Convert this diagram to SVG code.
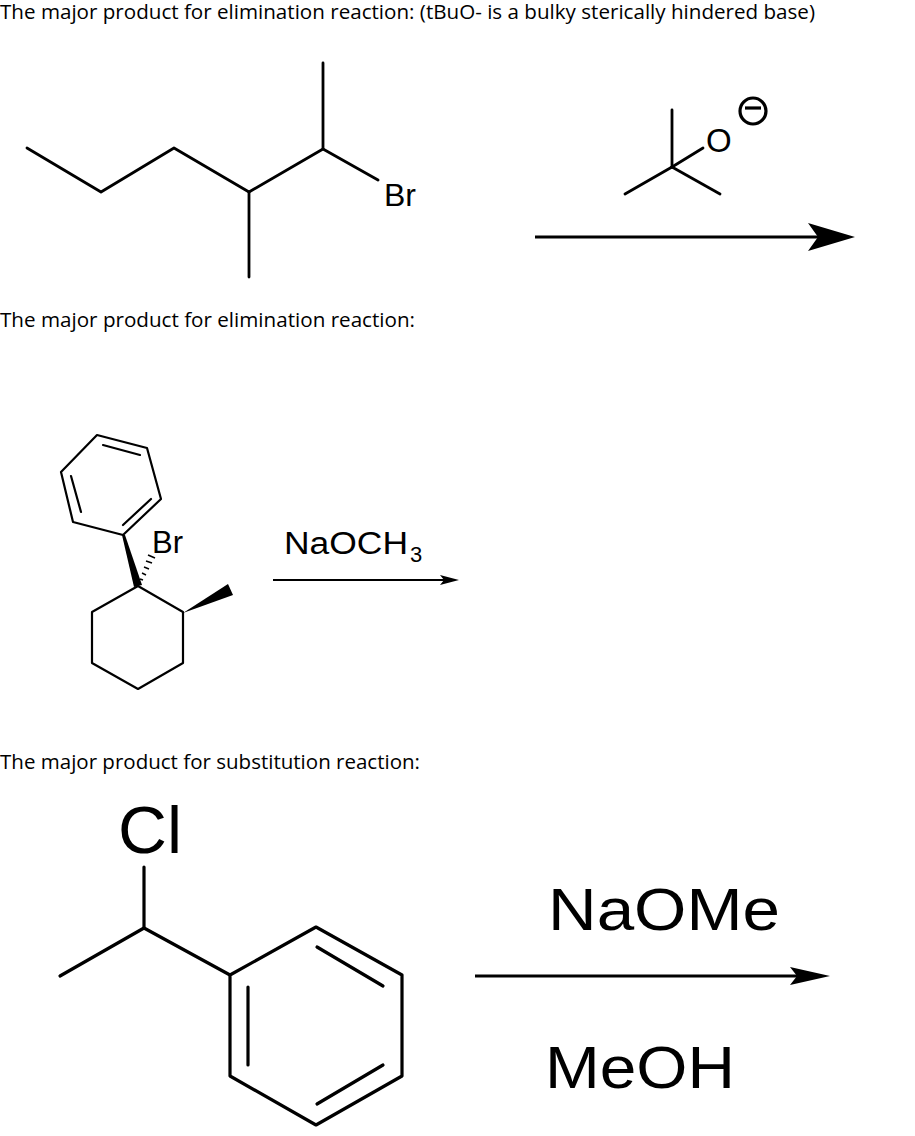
<svg xmlns="http://www.w3.org/2000/svg" width="915" height="1136" viewBox="0 0 915 1136">
<style>
.h{font-family:"Open Sans","Liberation Sans",sans-serif;font-size:20px;fill:#000}
.a{font-family:"Liberation Sans",Arial,sans-serif;fill:#000}
.b{fill:none;stroke:#000;stroke-linecap:round;stroke-linejoin:round}
</style>
<rect width="915" height="1136" fill="#fff"/>
<text class="h" x="0" y="19" textLength="815" lengthAdjust="spacingAndGlyphs">The major product for elimination reaction: (tBuO- is a bulky sterically hindered base)</text>
<text class="h" x="0" y="327" textLength="415" lengthAdjust="spacingAndGlyphs">The major product for elimination reaction:</text>
<text class="h" x="0" y="769" textLength="420" lengthAdjust="spacingAndGlyphs">The major product for substitution reaction:</text>

<g id="mol1">
<polyline class="b" stroke-width="2.8" points="27,148 101,192 174,148 249,192 323,149 378,180"/>
<line class="b" stroke-width="2.8" x1="323" y1="149" x2="323" y2="63"/>
<line class="b" stroke-width="2.8" x1="249" y1="192" x2="249" y2="277"/>
<text class="a" x="384" y="206" font-size="32" fill="#333">Br</text>
</g>
<g id="reagent1">
<line class="b" stroke-width="2.8" x1="672" y1="167" x2="672" y2="110"/>
<line class="b" stroke-width="2.8" x1="672" y1="167" x2="625" y2="194"/>
<line class="b" stroke-width="2.8" x1="672" y1="167" x2="720" y2="194"/>
<line class="b" stroke-width="2.8" x1="672" y1="167" x2="703" y2="148"/>
<text class="a" x="706" y="152" font-size="33" fill="#333">O</text>
<circle cx="753" cy="111" r="13" fill="none" stroke="#000" stroke-width="3.2"/>
<line x1="745" y1="108" x2="761" y2="108" stroke="#000" stroke-width="3.2"/>
</g>
<g id="connectors">
<line x1="535" y1="237" x2="820" y2="237" stroke="#000" stroke-width="3"/>
<path d="M855,237 L808,223 L818,237 L808,251 Z" fill="#000"/>
<line x1="273" y1="580" x2="445" y2="580" stroke="#000" stroke-width="1.8"/>
<path d="M459,580 L440,575 L444,580 L440,585 Z" fill="#000"/>
<line x1="475" y1="976" x2="800" y2="976" stroke="#000" stroke-width="3"/>
<path d="M830,976 L790,967 L797,976 L790,985 Z" fill="#000"/>
</g>

<g id="mol2">
<polygon class="b" stroke-width="2.2" points="97,435 147,448 161,499 123,535 73,522 61,472"/>
<line class="b" stroke-width="2.2" x1="103" y1="445" x2="140" y2="455"/>
<line class="b" stroke-width="2.2" x1="71" y1="476" x2="81" y2="512"/>
<line class="b" stroke-width="2.2" x1="151" y1="499" x2="123" y2="525"/>
<polygon points="122,535 125,535 142,585 134,587" fill="#000"/>
<g stroke="#000" stroke-width="1.5">
<line x1="140" y1="579" x2="143" y2="580"/>
<line x1="142" y1="573" x2="146" y2="575"/>
<line x1="144" y1="567" x2="149" y2="569"/>
<line x1="146" y1="561" x2="152" y2="563"/>
<line x1="148" y1="555" x2="155" y2="558"/>
</g>
<polygon class="b" stroke-width="2.2" points="138,586 183,612 183,663 138,689 92,663 92,612"/>
<polygon points="183,613 228,584 233,595" fill="#000"/>
<text class="a" x="152" y="553" font-size="31">Br</text>
<text class="a" x="284" y="554" font-size="31" textLength="124" lengthAdjust="spacingAndGlyphs">NaOCH</text><text class="a" x="410" y="562" font-size="22">3</text>
</g>

<g id="mol3">
<text class="a" x="118" y="853" font-size="66" textLength="64" lengthAdjust="spacingAndGlyphs">Cl</text>
<line class="b" stroke-width="3.2" x1="144" y1="867" x2="144" y2="928"/>
<polyline class="b" stroke-width="3.2" points="60,976 144,928 230,975"/>
<polygon class="b" stroke-width="3.2" points="230,975 316,927 402,975 402,1076 316,1125 230,1076"/>
<line class="b" stroke-width="3.2" x1="317" y1="947" x2="383" y2="986"/>
<line class="b" stroke-width="3.2" x1="248" y1="987" x2="248" y2="1065"/>
<line class="b" stroke-width="3.2" x1="317" y1="1104" x2="383" y2="1065"/>
<text class="a" x="548" y="930" font-size="60" textLength="232" lengthAdjust="spacingAndGlyphs">NaOMe</text>
<text class="a" x="545" y="1088" font-size="60" textLength="190" lengthAdjust="spacingAndGlyphs">MeOH</text>
</g>
</svg>
